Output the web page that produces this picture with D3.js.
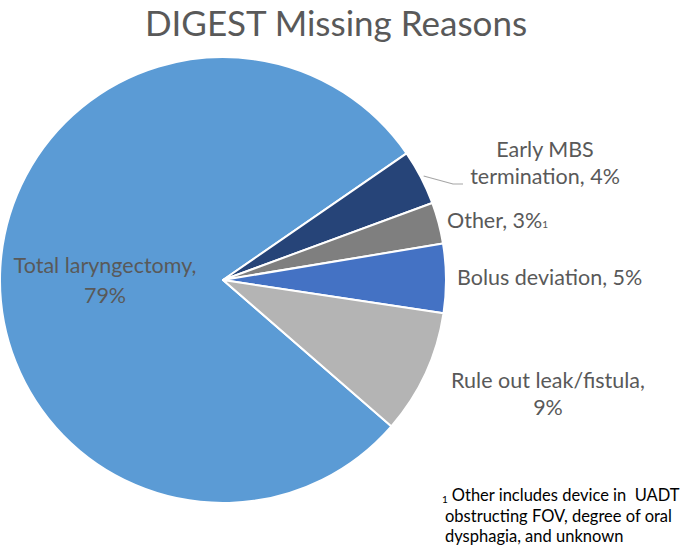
<!DOCTYPE html>
<html>
<head>
<meta charset="utf-8">
<script src="https://cdn.jsdelivr.net/npm/d3@7"></script>
<style>
  body { margin: 0; background: #fff; }
  svg { display: block; font-family: Lato, "Open Sans", sans-serif; }
</style>
</head>
<body>
<div id="chart"></div>
<script>
// slices in drawing order (clockwise from the first slice angle)
const reasons = ["Total laryngectomy", "Early MBS termination", "Other", "Bolus deviation", "Rule out leak/fistula"];
const percents = [79, 4, 3, 5, 9];
const sliceColors = ["#5B9BD5", "#264478", "#7F7F7F", "#4472C4", "#B4B4B4"];

const width = 685, height = 550;
const cx = 223, cy = 280, radius = 223;
const firstAngle = 131 * Math.PI / 180;

const svg = d3.select("#chart")
  .append("svg")
  .attr("width", width)
  .attr("height", height);

// title
svg.append("text")
  .attr("x", 336)
  .attr("y", 36)
  .attr("text-anchor", "middle")
  .style("font-size", "35px")
  .style("fill", "#595959")
  .text("DIGEST Missing Reasons");

const data = reasons.map((r, i) => ({ reason: r, pct: percents[i] }));

const pie = d3.pie()
  .sort(null)
  .value(d => d.pct)
  .startAngle(firstAngle)
  .endAngle(firstAngle + 2 * Math.PI);

const arc = d3.arc().innerRadius(0).outerRadius(radius);

const g = svg.append("g").attr("transform", `translate(${cx},${cy})`);

g.selectAll("path")
  .data(pie(data))
  .enter()
  .append("path")
  .attr("d", arc)
  .attr("fill", (d, i) => sliceColors[i])
  .attr("stroke", "#fff")
  .attr("stroke-width", 2)
  .attr("stroke-linejoin", "round");

// data labels: text lines + where Excel put them
const labelLayout = [
  { lines: ["Total laryngectomy,", "79%"], x: 105, y: 273, gap: 30, anchor: "middle" },
  { lines: ["Early MBS", "termination, 4%"], x: 545, y: 157, gap: 27, anchor: "middle" },
  { lines: ["Other, 3%"], x: 447, y: 228, anchor: "start", sub: "1" },
  { lines: ["Bolus deviation, 5%"], x: 457, y: 285, anchor: "start" },
  { lines: ["Rule out leak/fistula,", "9%"], x: 548, y: 388, gap: 27, anchor: "middle" }
];

labelLayout.forEach(l => {
  const t = svg.append("text")
    .attr("text-anchor", l.anchor)
    .style("font-size", "21.5px")
    .style("fill", "#595959");
  l.lines.forEach((line, j) => {
    t.append("tspan")
      .attr("x", l.x)
      .attr("y", l.y + j * (l.gap || 0))
      .text(line);
  });
  if (l.sub) {
    t.append("tspan")
      .style("font-size", "10px")
      .text(l.sub);
  }
});

// leader line for the Early MBS label
const early = pie(data)[1];
const edgeAngle = (early.startAngle + early.endAngle) / 2;
const ex = cx + Math.sin(edgeAngle) * (radius + 3);
const ey = cy - Math.cos(edgeAngle) * (radius + 3);
svg.append("polyline")
  .attr("points", `${ex},${ey} 453,184 463,184`)
  .attr("fill", "none")
  .attr("stroke", "#A6A6A6")
  .attr("stroke-width", 1.2);

// footnote
const foot = svg.append("text")
  .style("font-size", "16.5px")
  .style("fill", "#000");
const footLines = ["Other includes device in\u00a0 UADT", "obstructing FOV, degree of oral", "dysphagia, and unknown"];
foot.append("tspan").attr("x", 442).attr("y", 503).style("font-size", "10px").text("1");
foot.append("tspan").attr("dx", 4).attr("y", 501).text(footLines[0]);
foot.append("tspan").attr("x", 445).attr("y", 522).text(footLines[1]);
foot.append("tspan").attr("x", 445).attr("y", 542).text(footLines[2]);
</script>
</body>
</html>
